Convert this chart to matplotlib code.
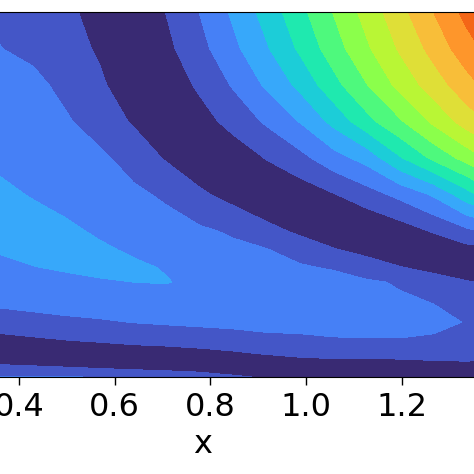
import matplotlib
matplotlib.use("Agg")
from matplotlib import pyplot as plt
import numpy as np

# values, bands counted from the dark one up
x = [0.291, 0.360, 0.430, 0.500, 0.569, 0.639, 0.708, 0.778, 0.848,
     0.917, 0.987, 1.057, 1.126, 1.196, 1.266, 1.335, 1.405]
y = [0.0, 0.02, 0.06, 0.10, 0.15, 0.20, 0.26, 0.30, 0.35, 0.40,
     0.50, 0.60, 0.70, 0.80, 0.90, 1.0]
z = [
    [2.20, 2.10, 2.05, 2.02, 1.98, 1.80, 1.60, 1.35, 1.10, 0.92, 0.70, 0.50, 0.30, 0.10, 0.10, 0.10, 0.10],
    [1.35, 1.32, 1.25, 1.18, 1.08, 1.00, 0.90, 0.82, 0.70, 0.55, 0.40, 0.30, 0.20, 0.20, 0.30, 0.30, 0.30],
    [0.45, 0.40, 0.30, 0.15, 0.10, 0.25, 0.35, 0.50, 0.75, 0.97, 1.10, 1.22, 1.25, 1.30, 1.40, 1.50, 1.30],
    [0.65, 0.72, 0.85, 0.98, 1.12, 1.30, 1.40, 1.55, 1.65, 1.80, 1.85, 1.93, 1.95, 1.96, 1.93, 1.60, 1.40],
    [1.40, 1.45, 1.60, 1.75, 1.88, 2.02, 2.10, 2.15, 2.20, 2.25, 2.25, 2.28, 2.30, 2.25, 2.12, 1.98, 1.70],
    [2.10, 2.15, 2.30, 2.45, 2.50, 2.55, 2.55, 2.55, 2.50, 2.45, 2.40, 2.35, 2.25, 2.13, 2.00, 1.60, 1.40],
    [2.60, 2.65, 2.75, 2.80, 2.92, 3.00, 3.04, 2.80, 2.70, 2.60, 2.50, 2.40, 2.12, 1.92, 1.45, 1.08, 0.80],
    [2.80, 2.87, 2.97, 3.10, 3.20, 3.12, 2.95, 2.70, 2.50, 2.30, 2.12, 1.90, 1.49, 1.05, 0.70, 0.30, 0.15],
    [3.00, 3.05, 3.30, 3.30, 3.10, 2.90, 2.65, 2.42, 2.20, 2.03, 1.55, 1.05, 0.67, 0.27, 0.18, 0.68, 0.90],
    [3.40, 3.30, 3.30, 3.13, 2.90, 2.65, 2.40, 2.15, 1.87, 1.32, 0.81, 0.39, 0.05, 0.49, 1.10, 1.77, 2.40],
    [3.25, 3.15, 2.95, 2.75, 2.50, 2.20, 1.84, 1.18, 0.62, 0.10, 0.42, 0.94, 1.57, 2.27, 3.13, 4.60, 6.00],
    [2.95, 2.85, 2.65, 2.40, 2.20, 1.60, 0.90, 0.25, 0.40, 1.05, 1.70, 2.60, 3.37, 4.90, 6.22, 7.38, 8.60],
    [2.80, 2.58, 2.35, 2.10, 1.53, 0.90, 0.15, 0.59, 1.35, 2.14, 3.05, 4.28, 5.65, 6.87, 8.20, 9.45, 10.40],
    [2.80, 2.55, 2.25, 1.72, 1.15, 0.42, 0.37, 1.18, 2.10, 3.15, 4.25, 5.65, 6.95, 8.30, 9.50, 10.60, 11.70],
    [2.10, 2.02, 1.76, 1.35, 0.88, 0.06, 0.76, 1.69, 2.76, 3.89, 5.17, 6.53, 7.83, 9.13, 10.34, 11.60, 12.60],
    [1.95, 1.85, 1.60, 1.27, 0.50, 0.26, 1.03, 2.03, 3.18, 4.38, 5.70, 7.04, 8.36, 9.67, 11.00, 12.30, 12.95],
]
levels = np.arange(0, 17)
xticks = [0.4, 0.6, 0.8, 1.0, 1.2]

fig = plt.figure(figsize=(4.74, 4.74), dpi=100)
# the picture is a crop, so the axes run past the left and right of the figure
ax = fig.add_axes([-94 / 474, 97 / 474, 594 / 474, 365 / 474])
ax.contourf(x, y, np.array(z), levels=levels, cmap="turbo")
ax.set_xlim(0.164, 1.405)
ax.set_ylim(0, 1)
ax.set_xticks(xticks)
ax.set_yticks([])
ax.tick_params(axis="x", labelsize=23, length=6, width=1, pad=5)
ax.set_xlabel("x", fontsize=23, labelpad=4)
fig.savefig("out.png", dpi=100)
